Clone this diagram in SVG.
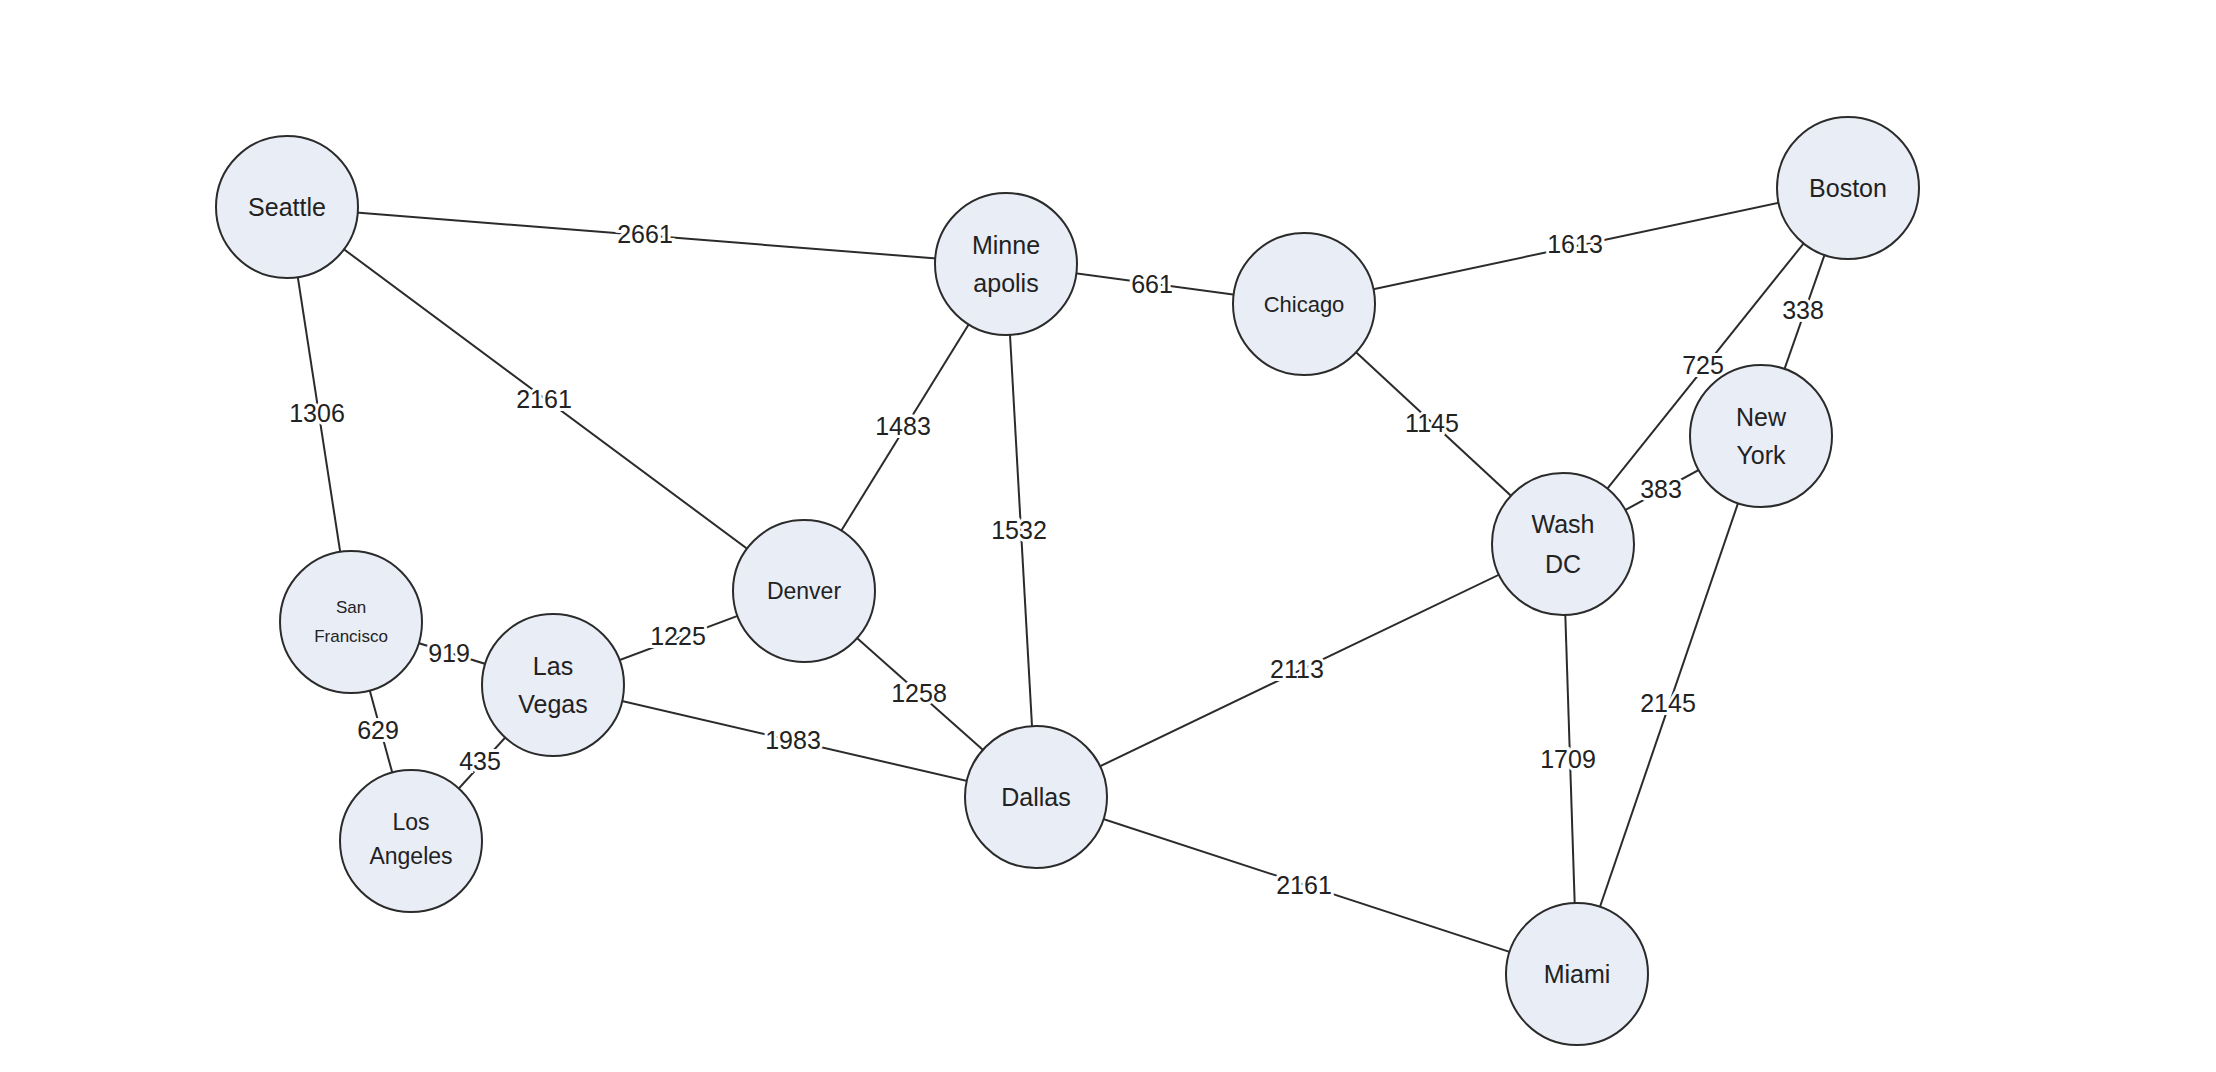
<svg xmlns="http://www.w3.org/2000/svg" width="2216" height="1072" viewBox="0 0 2216 1072">
<style>
.n circle{fill:#e9edf6;stroke:#2b2b2b;stroke-width:2}
.n text{font-family:"Liberation Sans",Arial,sans-serif;font-size:25px;fill:#222;text-anchor:middle;dominant-baseline:central}
#edges line{stroke:#2b2b2b;stroke-width:2}
#edges text{font-family:"Liberation Sans",Arial,sans-serif;font-size:25px;fill:#222;text-anchor:middle;dominant-baseline:central;stroke:#fff;stroke-width:6;paint-order:stroke}
</style>
<rect width="2216" height="1072" fill="#fff"/>
<g id="edges">
<line x1="287" y1="207" x2="1006" y2="264"/>
<line x1="1006" y1="264" x2="1304" y2="304"/>
<line x1="1304" y1="304" x2="1848" y2="188"/>
<line x1="287" y1="207" x2="804" y2="591"/>
<line x1="287" y1="207" x2="351" y2="622"/>
<line x1="1006" y1="264" x2="804" y2="591"/>
<line x1="1006" y1="264" x2="1036" y2="797"/>
<line x1="1304" y1="304" x2="1563" y2="544"/>
<line x1="1848" y1="188" x2="1563" y2="544"/>
<line x1="1848" y1="188" x2="1761" y2="436"/>
<line x1="1761" y1="436" x2="1563" y2="544"/>
<line x1="804" y1="591" x2="553" y2="685"/>
<line x1="351" y1="622" x2="553" y2="685"/>
<line x1="804" y1="591" x2="1036" y2="797"/>
<line x1="1563" y1="544" x2="1036" y2="797"/>
<line x1="1761" y1="436" x2="1577" y2="974"/>
<line x1="351" y1="622" x2="411" y2="841"/>
<line x1="553" y1="685" x2="1036" y2="797"/>
<line x1="553" y1="685" x2="411" y2="841"/>
<line x1="1563" y1="544" x2="1577" y2="974"/>
<line x1="1036" y1="797" x2="1577" y2="974"/>
<text x="645" y="234">2661</text>
<text x="1152" y="284">661</text>
<text x="1575" y="244">1613</text>
<text x="544" y="399">2161</text>
<text x="317" y="413">1306</text>
<text x="903" y="426">1483</text>
<text x="1019" y="530">1532</text>
<text x="1432" y="423">1145</text>
<text x="1703" y="365">725</text>
<text x="1803" y="310">338</text>
<text x="1661" y="489">383</text>
<text x="678" y="636">1225</text>
<text x="449" y="653">919</text>
<text x="919" y="693">1258</text>
<text x="1297" y="669">2113</text>
<text x="1668" y="703">2145</text>
<text x="378" y="730">629</text>
<text x="793" y="740">1983</text>
<text x="480" y="761">435</text>
<text x="1568" y="759">1709</text>
<text x="1304" y="885">2161</text>
</g>
<g id="seattle" class="n"><circle cx="287" cy="207" r="71"/><text x="287" y="207">Seattle</text></g>
<g id="minneapolis" class="n"><circle cx="1006" cy="264" r="71"/><text x="1006" y="245">Minne</text><text x="1006" y="283">apolis</text></g>
<g id="chicago" class="n"><circle cx="1304" cy="304" r="71"/><text x="1304" y="304" style="font-size:22px">Chicago</text></g>
<g id="boston" class="n"><circle cx="1848" cy="188" r="71"/><text x="1848" y="188">Boston</text></g>
<g id="newyork" class="n"><circle cx="1761" cy="436" r="71"/><text x="1761" y="417">New</text><text x="1761" y="455">York</text></g>
<g id="washdc" class="n"><circle cx="1563" cy="544" r="71"/><text x="1563" y="524">Wash</text><text x="1563" y="564">DC</text></g>
<g id="denver" class="n"><circle cx="804" cy="591" r="71"/><text x="804" y="591" style="font-size:23px">Denver</text></g>
<g id="sanfrancisco" class="n"><circle cx="351" cy="622" r="71"/><text x="351" y="607" style="font-size:17px">San</text><text x="351" y="636" style="font-size:17px">Francisco</text></g>
<g id="lasvegas" class="n"><circle cx="553" cy="685" r="71"/><text x="553" y="666">Las</text><text x="553" y="704">Vegas</text></g>
<g id="losangeles" class="n"><circle cx="411" cy="841" r="71"/><text x="411" y="822" style="font-size:23px">Los</text><text x="411" y="856" style="font-size:23px">Angeles</text></g>
<g id="dallas" class="n"><circle cx="1036" cy="797" r="71"/><text x="1036" y="797">Dallas</text></g>
<g id="miami" class="n"><circle cx="1577" cy="974" r="71"/><text x="1577" y="974">Miami</text></g>
</svg>
